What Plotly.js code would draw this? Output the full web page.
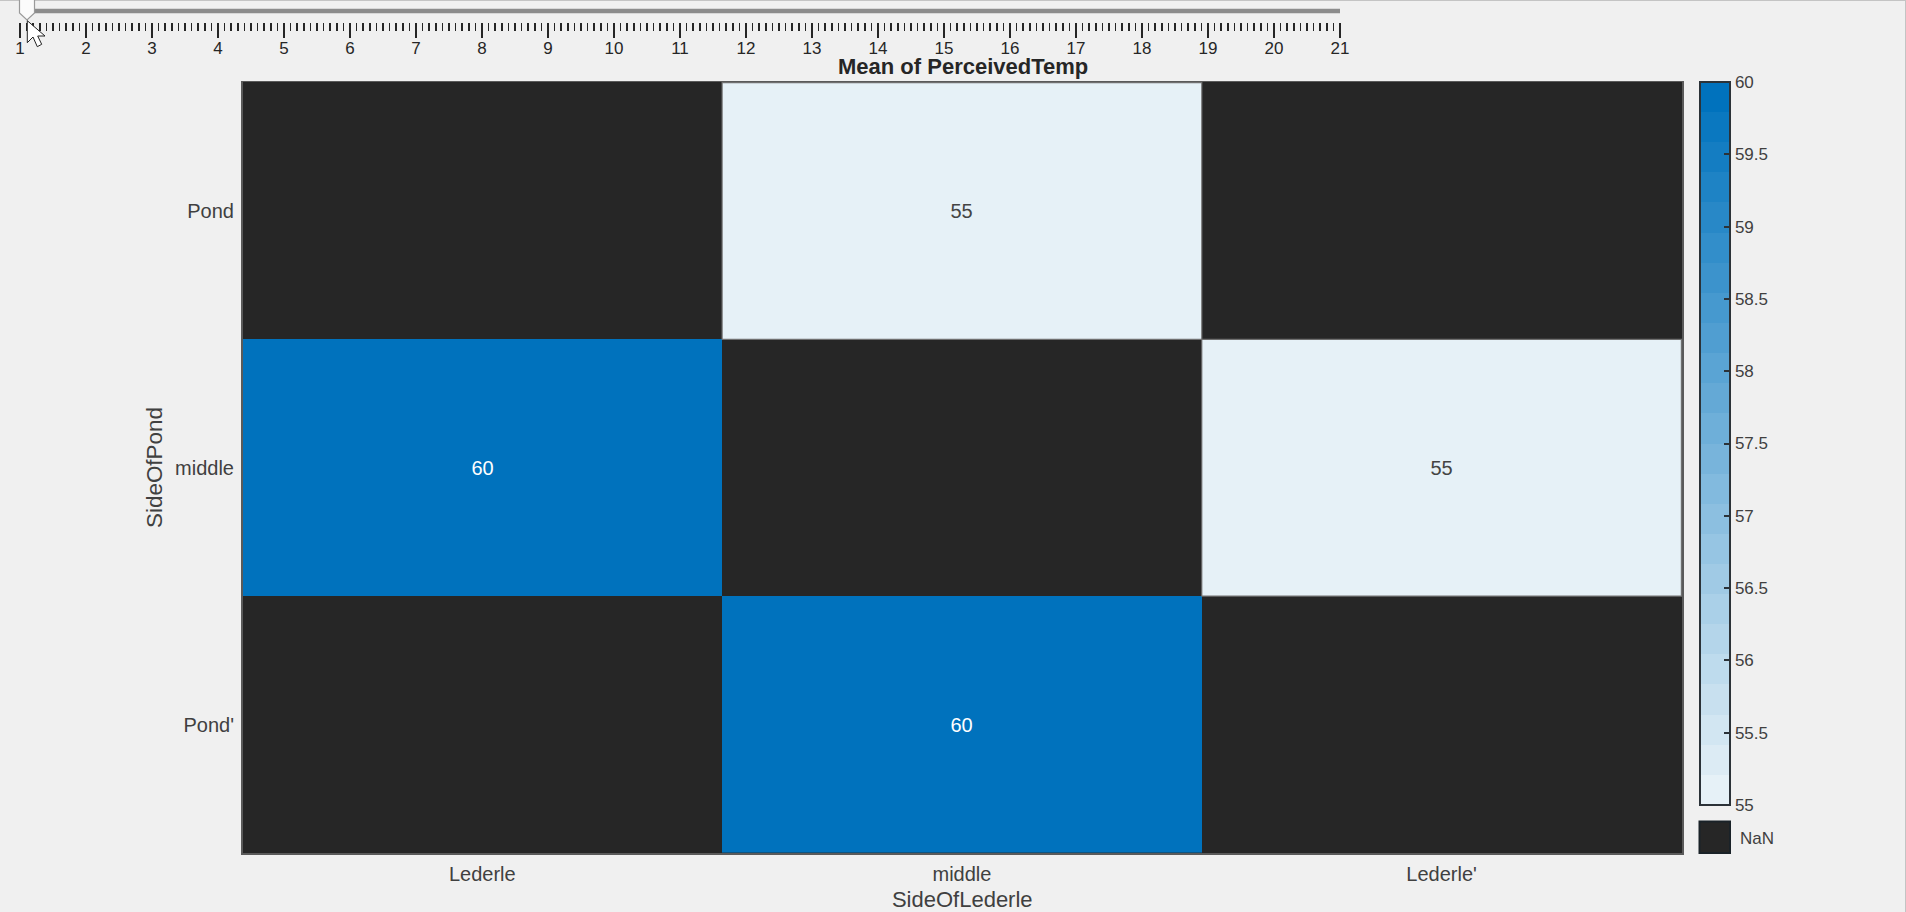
<!DOCTYPE html>
<html>
<head>
<meta charset="utf-8">
<script src="https://cdn.plot.ly/plotly-3.0.1.min.js"></script>
<style>html,body{margin:0;padding:0;background:#f0f0f0;overflow:hidden}</style>
</head>
<body>
<div id="chart" style="width:1906px;height:912px"></div>
<script>
const sideOfLederle = ["Lederle", "middle", "Lederle'"];
const sideOfPond = ["Pond", "middle", "Pond'"];
const rowPond = [null, 55, null];
const rowMiddle = [60, null, 55];
const rowPondPrime = [null, 60, null];
const sliderRange = [1, 21];
const sliderTicks = [1,2,3,4,5,6,7,8,9,10,11,12,13,14,15,16,17,18,19,20,21];
const colorTicks = [55,55.5,56,56.5,57,57.5,58,58.5,59,59.5,60];

const W = 1906, H = 912;
const px = v => v / W, py = v => 1 - v / H;
const FONT = '"Liberation Sans", Arial, sans-serif';
const TXT = '#404040';

const zRows = [rowPond, rowMiddle, rowPondPrime];

// stepped colormap, light to blue
const STEPS = 24, LOW = [230,241,247], HIGH = [0,114,189];
const colorscale = [];
for (let i = 0; i < STEPS; i++) {
  const t = i / (STEPS - 1);
  const c = 'rgb(' + LOW.map((l, k) => Math.round(l + (HIGH[k] - l) * t)).join(',') + ')';
  colorscale.push([i / STEPS, c], [(i + 1) / STEPS, c]);
}

const heat = {
  type: 'heatmap',
  x: sideOfLederle, y: sideOfPond, z: zRows,
  zmin: 55, zmax: 60, colorscale,
  texttemplate: '%{z}',
  textfont: {family: FONT, size: 20},
  hoverongaps: false,
  colorbar: {
    xref: 'paper', yref: 'paper',
    x: px(1699.5), xanchor: 'left', xpad: 0,
    y: py(82), yanchor: 'top', ypad: 0,
    thicknessmode: 'pixels', thickness: 30,
    lenmode: 'pixels', len: 723,
    outlinecolor: '#2b3238', outlinewidth: 2, borderwidth: 0,
    tickmode: 'array', tickvals: colorTicks,
    ticks: 'inside', ticklen: 7, tickwidth: 2, tickcolor: '#2b3238',
    tickprefix: '\u00a0',
    tickfont: {family: FONT, size: 17, color: TXT}
  }
};

const track = {
  type: 'scatter', mode: 'lines', xaxis: 'x2', yaxis: 'y2',
  x: sliderRange, y: [0, 0],
  line: {color: '#8c8c8c', width: 4.5}, hoverinfo: 'skip', showlegend: false
};

const shapes = [];
// NaN background of the heatmap area only
shapes.push({type: 'rect', xref: 'x domain', yref: 'y domain', x0: 0, x1: 1, y0: 0, y1: 1,
  fillcolor: '#262626', line: {width: 0}, layer: 'below'});
// grey edges round the low-value cells
zRows.forEach((row, r) => row.forEach((v, c) => {
  if (v === 55) shapes.push({type: 'rect', xref: 'x', yref: 'y',
    x0: c - 0.5, x1: c + 0.5, y0: r - 0.5, y1: r + 0.5,
    line: {color: '#707070', width: 1.2}, layer: 'above'});
}));
const pathOf = pts => 'M' + pts.map(p => px(p[0]) + ',' + py(p[1])).join('L') + 'Z';
// figure border
shapes.push({type: 'line', xref: 'paper', yref: 'paper', x0: 0, x1: 1, y0: py(0.5), y1: py(0.5), line: {color: '#c4c4c4', width: 1}});
shapes.push({type: 'line', xref: 'paper', yref: 'paper', x0: px(1905.5), x1: px(1905.5), y0: 0, y1: 1, line: {color: '#c4c4c4', width: 1}});
// NaN swatch
shapes.push({type: 'rect', xref: 'paper', yref: 'paper', x0: px(1699.5), x1: px(1730), y0: py(821.5), y1: py(853),
  fillcolor: '#262626', line: {color: '#1a2228', width: 2}});
// slider thumb
shapes.push({type: 'path', xref: 'paper', yref: 'paper',
  path: pathOf([[19.5,-1],[34.5,-1],[34.5,13],[27,20],[19.5,13]]),
  fillcolor: '#fbfbfb', line: {color: '#9a9a9a', width: 1.2}});
// mouse pointer
shapes.push({type: 'path', xref: 'paper', yref: 'paper',
  path: pathOf([[27.3,20.7],[27.3,42.7],[33,37],[37.3,46.7],[41.7,44.3],[37.7,36],[45,36]]),
  fillcolor: '#ffffff', line: {color: '#222222', width: 1}});

const layout = {
  width: W, height: H, autosize: false,
  margin: {l: 0, r: 0, t: 0, b: 0, pad: 0},
  paper_bgcolor: '#f0f0f0', plot_bgcolor: 'rgba(0,0,0,0)',
  font: {family: FONT, color: TXT},
  showlegend: false,
  xaxis: {
    domain: [px(242.5), px(1682)], type: 'category', anchor: 'y',
    showgrid: false, zeroline: false,
    showline: true, mirror: true, linecolor: '#5a5a5a', linewidth: 1.5,
    ticks: 'outside', ticklen: 2, tickcolor: 'rgba(0,0,0,0)',
    tickfont: {family: FONT, size: 20, color: TXT},
    title: {text: 'SideOfLederle', standoff: 13, font: {family: FONT, size: 22, color: TXT}}
  },
  yaxis: {
    domain: [py(853), py(82)], type: 'category', anchor: 'x',
    autorange: 'reversed',
    showgrid: false, zeroline: false,
    showline: true, mirror: true, linecolor: '#5a5a5a', linewidth: 1.5,
    ticks: 'outside', ticklen: 3, tickcolor: 'rgba(0,0,0,0)',
    tickfont: {family: FONT, size: 20, color: TXT},
    title: {text: 'SideOfPond', standoff: 6, font: {family: FONT, size: 22.4, color: TXT}}
  },
  xaxis2: {
    domain: [px(20), px(1340)], anchor: 'y2', range: sliderRange,
    showgrid: false, zeroline: false, showline: false, fixedrange: true,
    tickmode: 'array', tickvals: sliderTicks,
    ticks: 'outside', ticklen: 15, tickwidth: 1.5, tickcolor: '#262626',
    minor: {dtick: 0.1, ticks: 'outside', ticklen: 8, tickwidth: 1.5, tickcolor: '#262626', showgrid: false},
    ticklabelstandoff: -4,
    tickfont: {family: FONT, size: 17, color: '#262626'}
  },
  yaxis2: {
    domain: [py(22), 1], anchor: 'x2', range: [-11, 11],
    visible: false, fixedrange: true
  },
  annotations: [
    {xref: 'paper', yref: 'paper', x: px(963), y: py(66), xanchor: 'center', yanchor: 'middle',
     text: '<b>Mean of PerceivedTemp</b>', showarrow: false, font: {family: FONT, size: 22, color: '#262626'}},
    {xref: 'paper', yref: 'paper', x: px(1738), y: py(838), xanchor: 'left', yanchor: 'middle',
     text: 'NaN', showarrow: false, font: {family: FONT, size: 17, color: TXT}}
  ],
  shapes
};

Plotly.newPlot('chart', [heat, track], layout, {displayModeBar: false, staticPlot: true});
</script>
</body>
</html>
